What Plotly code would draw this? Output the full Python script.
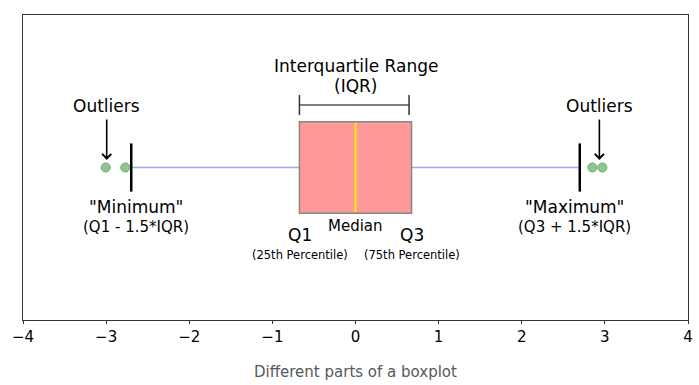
import plotly.graph_objects as go

# ---- data (standard normal boxplot anatomy) ----
q1 = -0.6745
median = 0.0
q3 = 0.6745
iqr = q3 - q1
whisker_low = -2.698
whisker_high = 2.698
outliers_low = [-3.005, -2.77]
outliers_high = [2.85, 2.97]
x_ticks = [-4, -3, -2, -1, 0, 1, 2, 3, 4]
x_tick_labels = ["\u22124", "\u22123", "\u22122", "\u22121", "0", "1", "2", "3", "4"]

FONT = "DejaVu Sans"
YC = 0.5        # vertical centre of the box
BOX_H = 0.15    # half height of the box
CAP_H = 0.079   # half height of the whisker caps

fig = go.Figure()

# outliers
fig.add_trace(go.Scatter(
    x=outliers_low + outliers_high, y=[YC] * 4, mode="markers",
    marker=dict(size=9, color="#8fc68f", line=dict(color="#6aa96a", width=1)),
    hoverinfo="skip", showlegend=False))

shapes = []
# whisker lines
shapes.append(dict(type="line", xref="x", yref="y", x0=whisker_low, x1=q1, y0=YC, y1=YC,
                   line=dict(color="#a3a3ff", width=1.5), layer="below"))
shapes.append(dict(type="line", xref="x", yref="y", x0=q3, x1=whisker_high, y0=YC, y1=YC,
                   line=dict(color="#a3a3ff", width=1.5), layer="below"))
# box
shapes.append(dict(type="rect", xref="x", yref="y", x0=q1, x1=q3, y0=YC - BOX_H, y1=YC + BOX_H,
                   fillcolor="#ff9999", line=dict(color="#888888", width=1.5), layer="below"))
# median
shapes.append(dict(type="line", xref="x", yref="y", x0=median, x1=median,
                   y0=YC - BOX_H + 0.004, y1=YC + BOX_H - 0.004,
                   line=dict(color="#ffee00", width=2)))
# caps
for w in (whisker_low, whisker_high):
    shapes.append(dict(type="line", xref="x", yref="y", x0=w, x1=w, y0=YC - CAP_H, y1=YC + CAP_H,
                       line=dict(color="black", width=2.5)))
# IQR bracket
BY = 0.705
shapes.append(dict(type="line", xref="x", yref="y", x0=q1, x1=q3 - 0.03, y0=BY, y1=BY,
                   line=dict(color="#555555", width=1.5)))
for bx in (q1, q3 - 0.03):
    shapes.append(dict(type="line", xref="x", yref="y", x0=bx, x1=bx, y0=BY - 0.033, y1=BY + 0.033,
                       line=dict(color="#333333", width=1.5)))

ann = []
def txt(x, y, s, size, xshift=0, color="black", xref="x", yref="y"):
    ann.append(dict(x=x, y=y, xref=xref, yref=yref, text=s, showarrow=False,
                    xanchor="center", yanchor="middle", xshift=xshift,
                    font=dict(family=FONT, size=size, color=color)))

txt((q1 + q3) / 2, 0.833, "Interquartile Range", 17)
txt((q1 + q3) / 2, 0.767, "(IQR)", 17)
txt(outliers_low[0], 0.703, "Outliers", 17, xshift=1)
txt(outliers_high[1], 0.703, "Outliers", 17, xshift=-3)
txt(whisker_low, 0.371, "\"Minimum\"", 17, xshift=5)
txt(whisker_low, 0.306, "(Q1 - 1.5*IQR)", 15, xshift=5)
txt(whisker_high, 0.371, "\"Maximum\"", 17, xshift=-5)
txt(whisker_high, 0.306, "(Q3 + 1.5*IQR)", 15, xshift=-5)
txt(median, 0.308, "Median", 15)
txt(q1, 0.279, "Q1", 17, xshift=1)
txt(q3, 0.279, "Q3", 17)
txt(q1, 0.213, "(25th Percentile)", 11.5, xshift=1)
txt(q3, 0.213, "(75th Percentile)", 11.5)
txt(0.5, -0.17, "Different parts of a boxplot", 15, color="#54595d", xref="paper", yref="paper")

# arrows
for x, xs in ((outliers_low[0], 1), (outliers_high[1], -3)):
    ann.append(dict(x=x, y=0.525, ax=x, ay=0.662, xref="x", yref="y", axref="x", ayref="y",
                    text="", showarrow=True, arrowhead=4, arrowsize=1.1, arrowwidth=1.6,
                    arrowcolor="black", xshift=xs))

fig.update_layout(
    width=699, height=385,
    margin=dict(l=23, r=11, t=15, b=65, autoexpand=False),
    paper_bgcolor="white", plot_bgcolor="white",
    shapes=shapes, annotations=ann,
    showlegend=False,
    xaxis=dict(range=[-4, 4], tickvals=x_ticks, ticktext=x_tick_labels, automargin=False,
               showgrid=False, zeroline=False, showline=True, mirror=True,
               linecolor="#333333", linewidth=1.2, ticks="outside", ticklen=3,
               tickcolor="#333333", tickfont=dict(family=FONT, size=15, color="black")),
    yaxis=dict(range=[0, 1], showgrid=False, zeroline=False, showline=True, mirror=True,
               automargin=False,
               linecolor="#333333", linewidth=1.2, showticklabels=False, ticks=""),
)

fig.write_html("out.html", config={"displayModeBar": False},
               post_script="document.body.style.margin='0';document.body.style.overflow='hidden';")
